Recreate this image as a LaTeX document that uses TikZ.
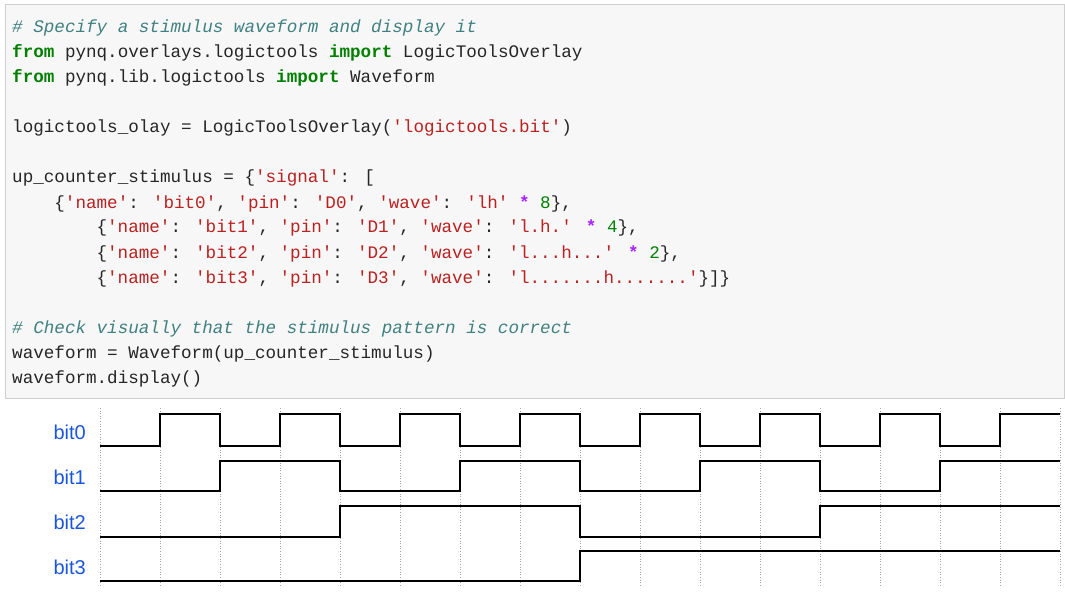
\documentclass[tikz,border=0pt]{standalone}
\usepackage{fontspec}
\setmainfont{Liberation Sans}
\newfontfamily\codef{Liberation Mono}
\definecolor{cbg}{HTML}{F7F7F7}
\definecolor{cbd}{HTML}{CFCFCF}
\definecolor{ccm}{HTML}{408080}
\definecolor{ckw}{HTML}{008000}
\definecolor{cst}{HTML}{BA2121}
\definecolor{cop}{HTML}{AA22FF}
\definecolor{clab}{HTML}{1A56DB}
\newcommand{\Cm}[1]{\textcolor{ccm}{\itshape #1}}
\newcommand{\Kw}[1]{\textcolor{ckw}{\bfseries #1}}
\newcommand{\St}[1]{\textcolor{cst}{#1}}
\newcommand{\Op}[1]{\textcolor{cop}{\bfseries #1}}
\newcommand{\Nm}[1]{\textcolor{ckw}{#1}}
\begin{document}
\begin{tikzpicture}[x=1pt,y=-1pt,
  code/.style={anchor=base west,inner sep=0pt,font=\codef\fontsize{17.6}{20}\selectfont,text=black!85},
  lab/.style={anchor=east,inner sep=0pt,font=\fontsize{20}{22}\selectfont,text=clab},
  wave/.style={line width=1.2pt,black},
  grid/.style={gray!70,dotted,line width=0.6pt}]
\useasboundingbox (0,0) rectangle (1065,604);
\draw[cbd,fill=cbg,line width=1pt] (5,5) rectangle (1064,398);
\node[code] (l1) at (12,33) {\Cm{\# Specify a stimulus waveform and display it}};
\node[code] (l2) at (12,58) {\Kw{from} pynq.overlays.logictools \Kw{import} LogicToolsOverlay};
\node[code] (l3) at (12,83) {\Kw{from} pynq.lib.logictools \Kw{import} Waveform};
\node[code] (l4) at (12,133) {logictools\_olay = LogicToolsOverlay(\St{'logictools.bit'})};
\node[code] (l5) at (12,183) {up\_counter\_stimulus = \{\St{'signal'}: [};
\node[code] (l6) at (54.2,208) {\{\St{'name'}: \St{'bit0'}, \St{'pin'}: \St{'D0'}, \St{'wave'}: \St{'lh'} \Op{*} \Nm{8}\},};
\node[code] (l7) at (96.4,233) {\{\St{'name'}: \St{'bit1'}, \St{'pin'}: \St{'D1'}, \St{'wave'}: \St{'l.h.'} \Op{*} \Nm{4}\},};
\node[code] (l8) at (96.4,258) {\{\St{'name'}: \St{'bit2'}, \St{'pin'}: \St{'D2'}, \St{'wave'}: \St{'l...h...'} \Op{*} \Nm{2}\},};
\node[code] (l9) at (96.4,283) {\{\St{'name'}: \St{'bit3'}, \St{'pin'}: \St{'D3'}, \St{'wave'}: \St{'l.......h.......'}\}]\}};
\node[code] (l10) at (12,333) {\Cm{\# Check visually that the stimulus pattern is correct}};
\node[code] (l11) at (12,358) {waveform = Waveform(up\_counter\_stimulus)};
\node[code] (l12) at (12,383) {waveform.display()};
% grid
\foreach \i in {0,...,16} \draw[grid] (100+60*\i,408) -- (100+60*\i,586);
% labels
\node[lab] (b0) at (86,432) {bit0};
\node[lab] (b1) at (86,477) {bit1};
\node[lab] (b2) at (86,522) {bit2};
\node[lab] (b3) at (86,567) {bit3};
% waves
\draw[wave] (100,446)
  \foreach \i in {0,...,6} { -- (160+120*\i,446) -- (160+120*\i,414) -- (220+120*\i,414) -- (220+120*\i,446) } -- (1000,446) -- (1000,414) -- (1060,414);
\draw[wave] (100,491) \foreach \i in {0,...,2} { -- (220+240*\i,491) -- (220+240*\i,461) -- (340+240*\i,461) -- (340+240*\i,491) } -- (940,491) -- (940,461) -- (1060,461);
\draw[wave] (100,537) -- (340,537) -- (340,506) -- (580,506) -- (580,537) -- (820,537) -- (820,506) -- (1060,506);
\draw[wave] (100,581) -- (580,581) -- (580,551) -- (1060,551);
\end{tikzpicture}
\end{document}
